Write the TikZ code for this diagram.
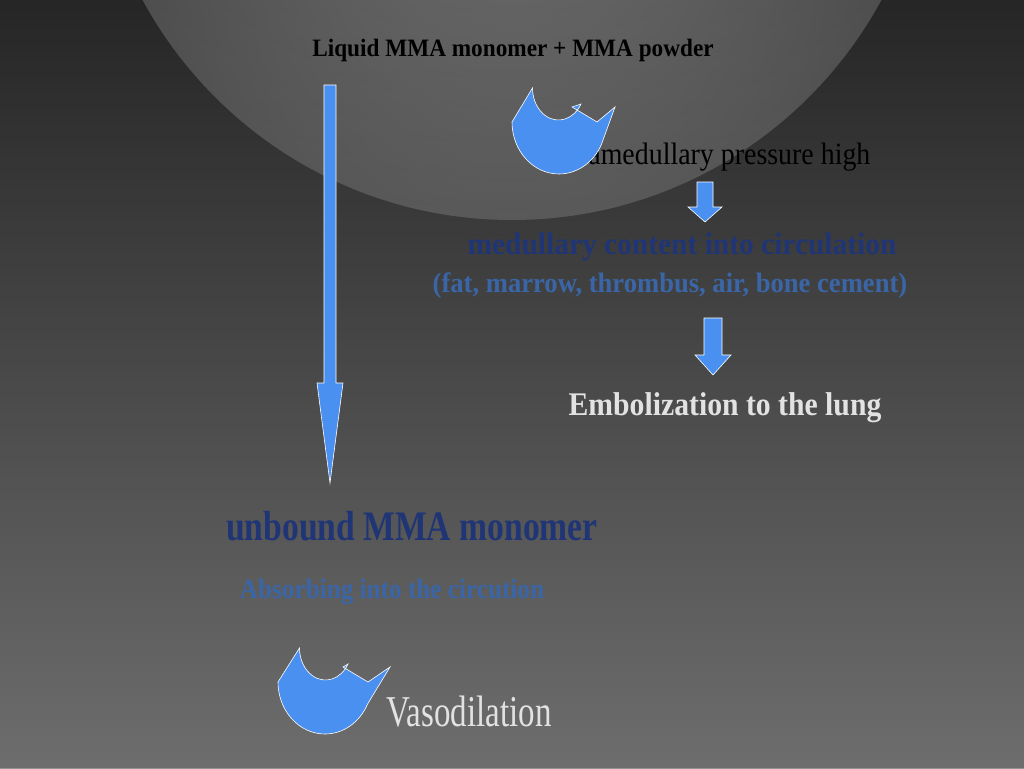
\documentclass[tikz,border=0pt]{standalone}
\usepackage{fontspec}
\setmainfont{Liberation Serif}
\usetikzlibrary{arrows.meta}
\definecolor{dblue}{HTML}{1F3575}
\definecolor{mblue}{HTML}{3A66A8}
\definecolor{arr}{HTML}{4A90F0}
\definecolor{lgray}{HTML}{E2E2E2}
\tikzset{
  txt/.style={inner sep=0pt, anchor=center},
  shaft/.style={draw=white, line width=0.6pt, fill=arr},
}
\begin{document}
\begin{tikzpicture}[x=1pt,y=-1pt]
\useasboundingbox (0,0) rectangle (1024,768);
\shade[top color=black!60!gray, bottom color=gray!85!white] (0,0) rectangle (1024,768);
\fill[black,opacity=0.25] (0,0) rectangle (1024,768);
\shade[inner color=white!70!gray, outer color=gray, opacity=0.45] (512,-200) circle (420);
% text
\node[txt,font=\fontsize{25}{28}\selectfont\bfseries] (t1) at (513,50) {\scalebox{0.93}[1]{Liquid MMA monomer + MMA powder}};
\node[txt,font=\fontsize{31}{34}\selectfont] (t2) at (710,157) {\scalebox{0.9}[1]{intramedullary pressure high}};
\node[txt,font=\fontsize{31}{34}\selectfont\bfseries,text=dblue] (t3) at (682,247) {\scalebox{0.95}[1]{medullary content into circulation}};
\node[txt,font=\fontsize{28}{31}\selectfont\bfseries,text=mblue] (t4) at (670,286) {\scalebox{0.95}[1]{(fat, marrow, thrombus, air, bone cement)}};
\node[txt,font=\fontsize{33}{36}\selectfont\bfseries,text=lgray] (t5) at (725,408) {\scalebox{0.9}[1]{Embolization to the lung}};
\node[txt,font=\fontsize{42}{45}\selectfont\bfseries,text=dblue] (t6) at (412,526) {\scalebox{0.8}[1]{unbound MMA monomer}};
\node[txt,font=\fontsize{28}{31}\selectfont\bfseries,text=mblue] (t7) at (392,592) {\scalebox{0.9}[1]{Absorbing into the circution}};
\node[txt,font=\fontsize{44}{47}\selectfont,text=lgray] (t8) at (469,712) {\scalebox{0.75}[1]{Vasodilation}};
% long arrow
\coordinate (a1) at (330,85);
\draw[shaft] (324,85) -- (336,85) -- (336,383) -- (343,383) -- (330,483) -- (317,383) -- (324,383) -- cycle;
% small arrows
\draw[shaft] (697,182) -- (713,182) -- (713,207) -- (722,207) -- (705,222) -- (688,207) -- (697,207) -- cycle;
\draw[shaft] (704,318) -- (722,318) -- (722,355) -- (731,355) -- (713,375) -- (695,355) -- (704,355) -- cycle;
% curved arrows
\draw[shaft] (512,122) arc[start angle=180,end angle=25,x radius=47,y radius=52]
  -- (615,107) -- (597,122) -- (572,107) -- (581,104)
  arc[start angle=30,end angle=180,x radius=26,y radius=32] -- cycle;
\draw[shaft] (278,682) arc[start angle=180,end angle=25,x radius=47,y radius=52]
  -- (390,667) -- (368,682) -- (343,667) -- (348,664)
  arc[start angle=30,end angle=180,x radius=26,y radius=32] -- cycle;
\end{tikzpicture}
\end{document}
